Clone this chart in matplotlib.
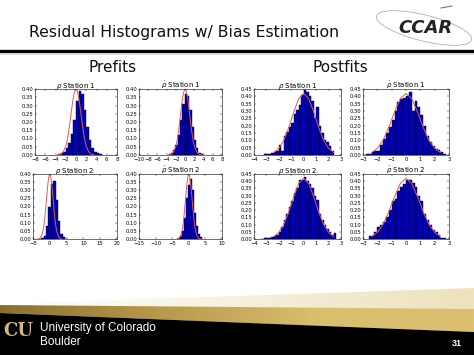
import numpy as np
import matplotlib.pyplot as plt
from matplotlib.patches import Polygon, Ellipse
from matplotlib.colors import LinearSegmentedColormap

# ---- data ----
# prefit histograms: first bin edge, bin width, bar heights
pre_rho1_start, pre_rho1_width = -3.5, 0.5
pre_rho1 = [0.005, 0.01, 0.02, 0.04, 0.07, 0.13, 0.21, 0.33, 0.39, 0.37,
            0.27, 0.17, 0.09, 0.04, 0.02, 0.01, 0.004]
pre_rr1_start, pre_rr1_width = -3.6, 0.5
pre_rr1 = [0.004, 0.01, 0.03, 0.06, 0.12, 0.21, 0.31, 0.37, 0.36, 0.27,
           0.17, 0.09, 0.04, 0.015, 0.005]
pre_rho2_start, pre_rho2_width = -2.5, 0.7
pre_rho2 = [0.005, 0.02, 0.08, 0.20, 0.34, 0.36, 0.24, 0.11, 0.03, 0.01, 0.003]
pre_rr2_start, pre_rr2_width = -3.3, 0.6
pre_rr2 = [0.005, 0.02, 0.05, 0.13, 0.25, 0.33, 0.37, 0.30, 0.16, 0.08,
           0.03, 0.01]

# postfit histograms
post_rho1_start, post_rho1_width = -3.2, 0.2
post_rho1 = [0.005, 0.01, 0.01, 0.015, 0.02, 0.03, 0.07, 0.03, 0.13, 0.16,
             0.19, 0.22, 0.28, 0.31, 0.34, 0.41, 0.44, 0.43, 0.40, 0.37,
             0.25, 0.33, 0.20, 0.15, 0.10, 0.09, 0.06, 0.03]
post_rr1_start, post_rr1_width = -2.8, 0.2
post_rr1 = [0.005, 0.01, 0.02, 0.03, 0.025, 0.07, 0.11, 0.15, 0.19, 0.24,
            0.30, 0.36, 0.38, 0.39, 0.40, 0.43, 0.30, 0.37, 0.33, 0.27,
            0.20, 0.13, 0.09, 0.06, 0.04, 0.035, 0.02, 0.01]
post_rho2_start, post_rho2_width = -3.4, 0.2
post_rho2 = [0.003, 0.005, 0.005, 0.01, 0.015, 0.02, 0.03, 0.05, 0.08, 0.13,
             0.17, 0.22, 0.26, 0.32, 0.35, 0.41, 0.41, 0.43, 0.40, 0.38,
             0.35, 0.30, 0.27, 0.17, 0.13, 0.10, 0.07, 0.05, 0.03, 0.045]
post_rr2_start, post_rr2_width = -2.6, 0.2
post_rr2 = [0.02, 0.02, 0.05, 0.08, 0.10, 0.12, 0.15, 0.20, 0.26, 0.28,
            0.33, 0.36, 0.38, 0.41, 0.41, 0.39, 0.36, 0.30, 0.26, 0.17,
            0.13, 0.10, 0.06, 0.05, 0.03, 0.01, 0.01]

# reference normal curves (red)
pre_curve_x = [-3.5, -3.0, -2.5, -2.0, -1.75, -1.5, -1.25, -1.0, -0.75, -0.5, -0.25, 0.0,
               0.25, 0.5, 0.75, 1.0, 1.25, 1.5, 1.75, 2.0, 2.5, 3.0, 3.5]
pre_curve_y = [0.001, 0.004, 0.018, 0.054, 0.086, 0.130, 0.183, 0.242, 0.301, 0.352, 0.387, 0.399,
               0.387, 0.352, 0.301, 0.242, 0.183, 0.130, 0.086, 0.054, 0.018, 0.004, 0.001]
post_curve_x = [-2.4, -2.0, -1.6, -1.2, -0.8, -0.4, 0.0, 0.4, 0.8, 1.2, 1.6, 2.0, 2.4]
post_curve_y = [0.017, 0.046, 0.101, 0.189, 0.294, 0.384, 0.42, 0.384, 0.294, 0.189, 0.101, 0.046, 0.017]

W, H = 474, 355
fig = plt.figure(figsize=(W / 100, H / 100), dpi=100)

# slide background / decorations
bg = fig.add_axes([0, 0, 1, 1])
bg.set_xlim(0, W)
bg.set_ylim(H, 0)
bg.axis('off')

bg.text(29, 32, 'Residual Histograms w/ Bias Estimation', fontsize=11.3,
        va='center', ha='left', color='#111111')
bg.add_patch(Ellipse((424, 28), 98, 26, angle=14, fill=False, ec='#a0a0a0', lw=0.5))
bg.text(425, 28, 'CCAR', fontsize=13, fontweight='bold', style='italic',
        ha='center', va='center', color='#222222')
bg.plot([441, 452], [8, 6], color='#777777', lw=0.8)
bg.plot([0, W], [51, 51], color='black', lw=2.4)
bg.plot([0, W], [54, 54], color='#bbbbbb', lw=0.4)
bg.text(113, 68, 'Prefits', fontsize=11, ha='center', va='center', color='#111111')
bg.text(340, 68, 'Postfits', fontsize=11, ha='center', va='center', color='#111111')

# footer: pale stripe, gold band, then black bar
grad = np.linspace(0, 1, 256).reshape(1, -1)
pale = Polygon([(0, 304), (W, 288), (W, 310), (0, 306)], closed=True,
               facecolor='none', edgecolor='none')
bg.add_patch(pale)
pale_cmap = LinearSegmentedColormap.from_list('pale', ['#ffffff', '#f6f0dc', '#eee2bc'])
im1 = bg.imshow(grad, cmap=pale_cmap, extent=[0, W, 312, 286], aspect='auto', zorder=1)
im1.set_clip_path(pale)
gold = Polygon([(0, 305), (W, 309), (W, 332), (0, 313)], closed=True,
               facecolor='none', edgecolor='none')
bg.add_patch(gold)
gold_cmap = LinearSegmentedColormap.from_list('gold', ['#8a7030', '#b8984a', '#d8bf6c', '#dcc070'])
im2 = bg.imshow(grad, cmap=gold_cmap, extent=[0, W, 334, 300], aspect='auto', zorder=1)
im2.set_clip_path(gold)
bg.add_patch(Polygon([(0, 313), (W, 332), (W, H), (0, H)], closed=True,
                     facecolor='black', edgecolor='none', zorder=2))
bg.text(18, 331, 'CU', fontsize=13, fontweight='bold', family='DejaVu Serif',
        color='#cfb87c', ha='center', va='center', zorder=3)
bg.text(40, 328, 'University of Colorado', fontsize=8.5, family='Liberation Sans',
        color='white', va='center', zorder=3)
bg.text(40, 342, 'Boulder', fontsize=8.5, family='Liberation Sans',
        color='white', va='center', zorder=3)
bg.text(457, 344, '31', fontsize=6.5, fontweight='bold', family='Liberation Sans',
        color='white', ha='center', va='center', zorder=3)


def panel(x0, y0, x1, y1, start, width, heights, cx, cy, title, xlim, xstep, ymax):
    ax = fig.add_axes([x0 / W, 1 - y1 / H, (x1 - x0) / W, (y1 - y0) / H])
    left = start + width * np.arange(len(heights))
    ax.bar(left, heights, width=width, align='edge', color='#0000cc',
           edgecolor='black', linewidth=0.3)
    ax.plot(cx, cy, color='#e05a5a', lw=0.7)
    ax.set_xlim(xlim)
    ax.set_ylim(0, ymax)
    ax.set_xticks(np.arange(xlim[0], xlim[1] + 0.001, xstep))
    ax.set_yticks(np.arange(0, ymax + 0.001, 0.05))
    ax.yaxis.set_major_formatter(plt.FormatStrFormatter('%.2f'))
    ax.tick_params(direction='in', top=True, right=True, labelsize=3.8,
                   length=1.5, width=0.3, pad=1)
    ax.tick_params(axis='x', pad=1.6)
    for s in ax.spines.values():
        s.set_linewidth(0.4)
    ax.set_title(title, fontsize=5, pad=1)
    return ax


panel(35, 89, 117, 155, pre_rho1_start, pre_rho1_width, pre_rho1,
      pre_curve_x, pre_curve_y, r'$\rho$ Station 1', (-8, 8), 2, 0.40)
panel(139, 89, 222, 155, pre_rr1_start, pre_rr1_width, pre_rr1,
      pre_curve_x, pre_curve_y, r'$\dot{\rho}$ Station 1', (-10, 8), 2, 0.40)
panel(254, 89, 341, 155, post_rho1_start, post_rho1_width, post_rho1,
      post_curve_x, post_curve_y, r'$\rho$ Station 1', (-4, 3), 1, 0.45)
panel(363, 89, 449, 155, post_rr1_start, post_rr1_width, post_rr1,
      post_curve_x, post_curve_y, r'$\dot{\rho}$ Station 1', (-3, 3), 1, 0.45)
panel(33, 174, 117, 239, pre_rho2_start, pre_rho2_width, pre_rho2,
      pre_curve_x, pre_curve_y, r'$\rho$ Station 2', (-5, 20), 5, 0.40)
panel(139, 174, 222, 239, pre_rr2_start, pre_rr2_width, pre_rr2,
      pre_curve_x, pre_curve_y, r'$\dot{\rho}$ Station 2', (-15, 10), 5, 0.40)
panel(254, 174, 341, 239, post_rho2_start, post_rho2_width, post_rho2,
      post_curve_x, post_curve_y, r'$\rho$ Station 2', (-4, 3), 1, 0.45)
panel(363, 174, 449, 239, post_rr2_start, post_rr2_width, post_rr2,
      post_curve_x, post_curve_y, r'$\dot{\rho}$ Station 2', (-3, 3), 1, 0.45)

fig.savefig('out.png', dpi=100)
